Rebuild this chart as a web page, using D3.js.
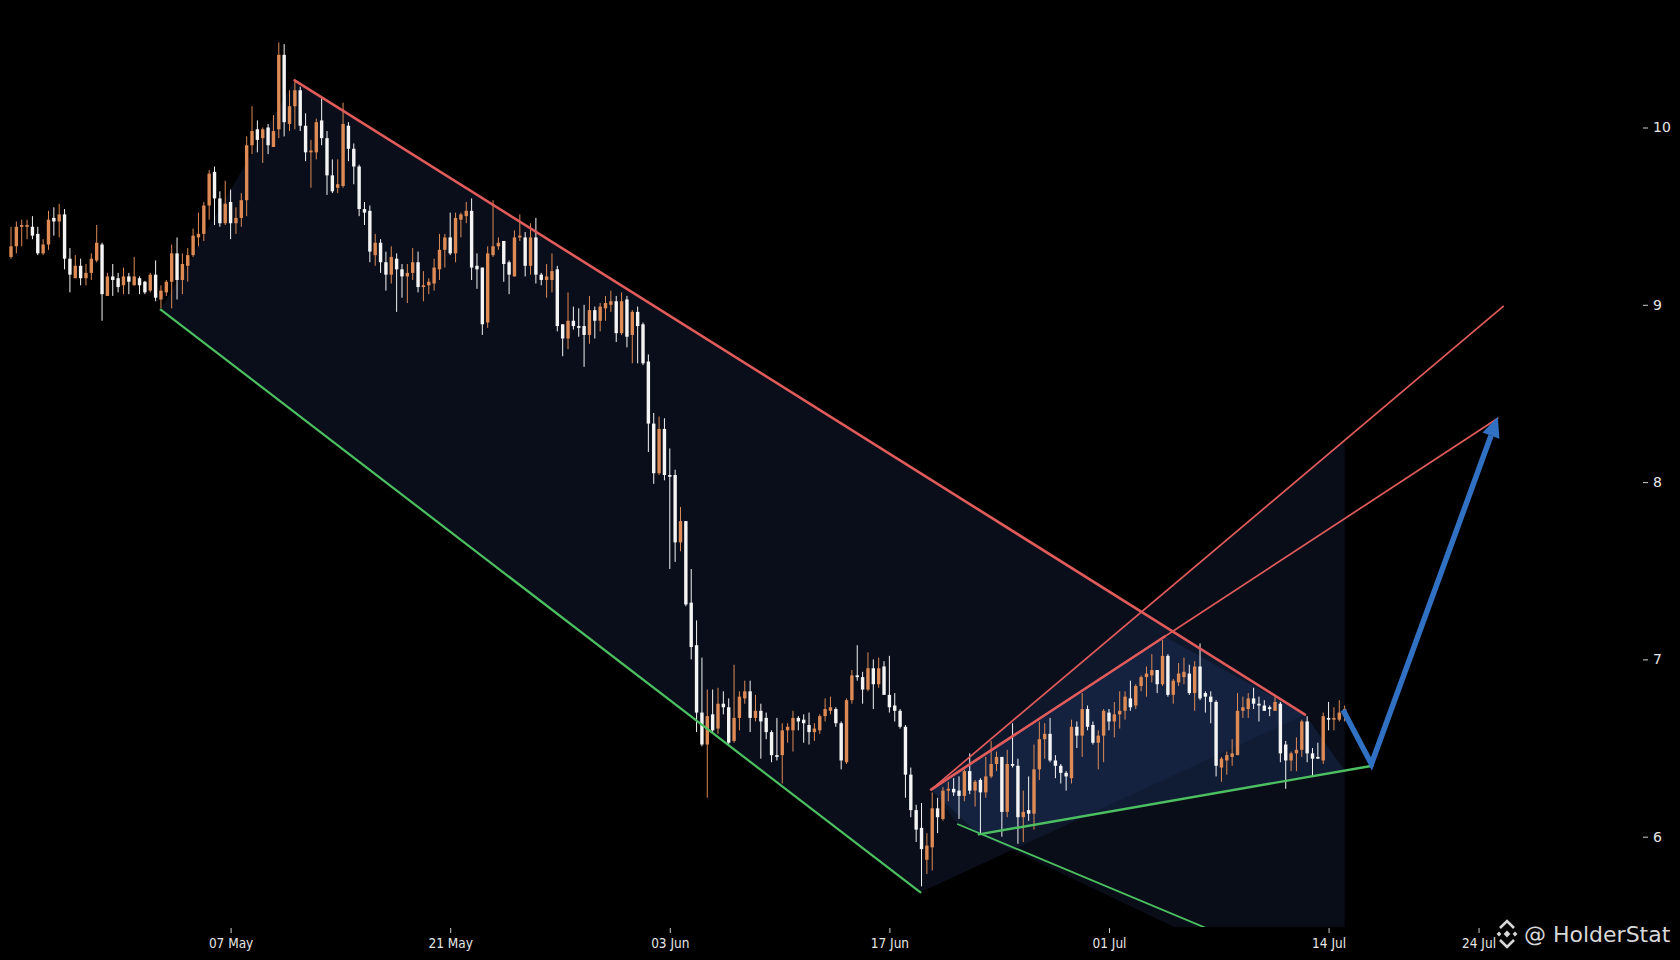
<!DOCTYPE html>
<html><head><meta charset="utf-8">
<script src="https://cdn.jsdelivr.net/npm/d3@7"></script>
<style>
html,body{margin:0;padding:0;background:#000;}
svg{display:block;}
</style></head>
<body>
<svg id="chart" width="1680" height="960"></svg>
<script>
// ---- data (8h candles, index based) ----
const opens  = [9.27,9.33,9.44,9.44,9.44,9.40,9.29,9.34,9.49,9.47,9.51,9.26,9.15,9.22,9.15,9.18,9.25,9.34,9.05,9.16,9.15,9.11,9.16,9.11,9.15,9.13,9.08,9.17,9.03,9.07,9.13,9.29,9.14,9.22,9.28,9.38,9.40,9.56,9.75,9.60,9.46,9.58,9.46,9.49,9.59,9.90,9.99,9.94,10.00,9.89,9.99,10.41,10.02,10.12,10.21,10.01,9.86,9.86,10.04,9.94,9.73,9.66,9.67,10.01,9.88,9.78,9.54,9.53,9.28,9.35,9.24,9.17,9.26,9.20,9.16,9.18,9.24,9.10,9.11,9.12,9.20,9.31,9.38,9.29,9.48,9.50,9.53,9.22,9.21,8.90,9.28,9.33,9.36,9.24,9.16,9.38,9.38,9.22,9.38,9.17,9.14,9.14,9.20,8.89,8.81,8.91,8.88,8.88,8.83,8.97,8.91,8.98,9.00,9.02,8.84,9.03,8.83,8.96,8.89,8.68,8.33,8.05,8.30,8.04,8.04,7.66,7.78,7.32,7.08,6.70,6.52,6.69,6.61,6.75,6.73,6.54,6.67,6.78,6.82,6.67,6.71,6.67,6.59,6.46,6.46,6.60,6.60,6.67,6.66,6.63,6.59,6.60,6.68,6.71,6.72,6.64,6.42,6.77,6.91,6.90,6.83,6.95,6.86,6.96,6.80,6.74,6.71,6.62,6.35,6.15,6.05,5.87,5.94,6.16,6.10,6.26,6.27,6.26,6.23,6.37,6.26,6.32,6.25,6.34,6.41,6.45,6.14,6.41,6.40,6.11,6.15,6.13,6.38,6.55,6.58,6.43,6.40,6.36,6.33,6.62,6.57,6.72,6.63,6.53,6.57,6.70,6.65,6.69,6.71,6.78,6.74,6.85,6.90,6.91,6.94,6.86,7.02,6.80,6.87,6.90,6.92,6.81,6.96,6.81,6.79,6.76,6.39,6.43,6.45,6.46,6.71,6.72,6.78,6.75,6.74,6.73,6.71,6.75,6.52,6.43,6.47,6.49,6.65,6.47,6.45,6.43,6.67,6.66,6.66,6.68];
const highs  = [9.44,9.47,9.48,9.48,9.50,9.44,9.37,9.53,9.55,9.57,9.54,9.32,9.28,9.26,9.23,9.29,9.45,9.35,9.18,9.23,9.18,9.21,9.18,9.27,9.16,9.135,9.18,9.25,9.11,9.14,9.34,9.38,9.29,9.32,9.43,9.52,9.58,9.76,9.78,9.64,9.70,9.65,9.55,9.63,9.95,10.12,10.04,10.00,10.02,10.07,10.48,10.47,10.21,10.27,10.23,10.08,9.93,10.05,10.17,9.98,9.82,9.82,10.14,10.03,9.91,9.79,9.58,9.56,9.40,9.37,9.30,9.33,9.29,9.23,9.23,9.32,9.30,9.19,9.15,9.26,9.40,9.40,9.52,9.52,9.52,9.58,9.60,9.29,9.21,9.33,9.59,9.38,9.36,9.25,9.42,9.51,9.41,9.46,9.49,9.18,9.23,9.29,9.22,8.89,9.07,8.99,8.98,9.00,9.05,8.99,9.01,9.05,9.08,9.05,9.07,9.05,8.97,8.99,8.90,8.72,8.39,8.37,8.36,8.19,8.07,7.86,7.78,7.51,7.22,7.01,6.83,6.83,6.84,6.82,6.78,6.97,6.82,6.88,6.88,6.80,6.75,6.70,6.60,6.67,6.64,6.64,6.71,6.68,6.69,6.70,6.64,6.69,6.78,6.79,6.73,6.65,6.78,6.94,7.08,6.93,7.04,7.00,7.01,6.99,7.02,6.81,6.72,6.63,6.39,6.18,6.19,6.02,6.25,6.22,6.28,6.31,6.33,6.34,6.38,6.47,6.32,6.33,6.45,6.54,6.48,6.45,6.49,6.64,6.44,6.26,6.34,6.52,6.65,6.64,6.67,6.46,6.41,6.37,6.66,6.65,6.81,6.74,6.65,6.60,6.72,6.72,6.76,6.82,6.82,6.88,6.86,6.91,6.96,7.03,6.94,7.11,7.03,6.89,6.98,7.01,6.97,6.99,7.09,6.82,6.82,6.77,6.45,6.48,6.55,6.81,6.79,6.81,6.84,6.79,6.77,6.74,6.79,6.76,6.54,6.48,6.56,6.66,6.68,6.50,6.53,6.70,6.76,6.73,6.77,6.74];
const lows   = [9.26,9.29,9.33,9.37,9.37,9.28,9.28,9.31,9.39,9.38,9.20,9.07,9.15,9.11,9.11,9.14,9.24,8.91,9.05,9.05,9.07,9.06,9.06,9.11,9.06,9.06,9.07,9.02,8.98,9.05,8.98,9.03,9.06,9.13,9.27,9.33,9.36,9.48,9.45,9.44,9.45,9.37,9.40,9.44,9.50,9.85,9.86,9.80,9.85,9.89,9.94,9.95,9.98,9.99,9.98,9.81,9.66,9.82,9.90,9.62,9.63,9.63,9.66,9.81,9.68,9.50,9.45,9.24,9.22,9.18,9.08,9.12,8.96,9.04,9.01,9.14,9.07,9.02,9.06,9.08,9.14,9.21,9.28,9.24,9.38,9.46,9.14,9.09,8.83,8.87,9.27,9.31,9.13,9.06,9.16,9.36,9.16,9.17,9.12,9.11,9.04,9.07,8.85,8.71,8.75,8.86,8.82,8.65,8.78,8.81,8.85,8.91,8.96,8.79,8.83,8.76,8.67,8.67,8.66,8.17,7.99,8.04,8.01,7.51,7.55,7.61,7.30,7.00,6.59,6.51,6.22,6.59,6.58,6.69,6.52,6.53,6.60,6.75,6.59,6.65,6.44,6.55,6.42,6.43,6.30,6.53,6.48,6.60,6.53,6.52,6.54,6.58,6.65,6.69,6.62,6.38,6.41,6.75,6.88,6.75,6.82,6.72,6.84,6.80,6.70,6.65,6.61,6.22,6.11,5.97,5.72,5.79,5.81,6.02,6.09,6.20,6.23,6.10,6.20,6.24,6.17,6.01,6.22,6.33,6.37,6.00,6.11,6.39,5.96,5.97,6.09,6.04,6.32,6.44,6.42,6.33,6.30,6.26,6.30,6.50,6.45,6.60,6.52,6.38,6.42,6.60,6.56,6.61,6.66,6.71,6.72,6.82,6.79,6.87,6.81,6.85,6.79,6.75,6.85,6.86,6.80,6.71,6.77,6.70,6.64,6.34,6.31,6.35,6.40,6.46,6.67,6.67,6.72,6.65,6.71,6.68,6.71,6.42,6.27,6.37,6.37,6.45,6.42,6.34,6.44,6.41,6.60,6.60,6.65,6.65];
const closes = [9.33,9.44,9.45,9.45,9.39,9.29,9.34,9.48,9.47,9.51,9.26,9.17,9.22,9.15,9.18,9.26,9.35,9.06,9.16,9.14,9.10,9.16,9.13,9.16,9.11,9.07,9.17,9.04,9.08,9.13,9.29,9.14,9.23,9.28,9.39,9.40,9.56,9.74,9.60,9.46,9.57,9.46,9.49,9.59,9.90,9.98,9.93,9.99,9.90,9.98,10.41,10.03,10.12,10.21,10.01,9.86,9.87,10.03,9.94,9.73,9.64,9.68,10.02,9.88,9.78,9.54,9.52,9.30,9.35,9.24,9.17,9.27,9.20,9.16,9.18,9.24,9.10,9.11,9.13,9.21,9.31,9.38,9.29,9.49,9.51,9.53,9.21,9.20,8.89,9.29,9.33,9.35,9.23,9.17,9.38,9.39,9.22,9.38,9.17,9.14,9.16,9.19,8.88,8.81,8.91,8.88,8.87,8.83,8.97,8.91,8.99,9.01,9.02,8.84,9.02,8.82,8.96,8.88,8.67,8.33,8.05,8.30,8.04,8.03,7.66,7.78,7.31,7.07,6.70,6.52,6.68,6.60,6.75,6.73,6.53,6.67,6.79,6.82,6.67,6.71,6.65,6.59,6.46,6.45,6.60,6.62,6.67,6.65,6.64,6.59,6.61,6.68,6.72,6.73,6.64,6.43,6.77,6.91,6.90,6.83,6.95,6.86,6.95,6.80,6.73,6.71,6.62,6.35,6.15,6.04,5.93,5.95,6.16,6.11,6.26,6.27,6.25,6.23,6.37,6.26,6.31,6.25,6.34,6.41,6.45,6.14,6.41,6.40,6.11,6.14,6.13,6.38,6.55,6.58,6.43,6.40,6.36,6.34,6.62,6.57,6.72,6.62,6.53,6.57,6.71,6.65,6.69,6.71,6.79,6.73,6.85,6.90,6.92,6.94,6.86,7.02,6.80,6.88,6.92,6.93,6.81,6.96,6.78,6.79,6.76,6.40,6.44,6.46,6.47,6.71,6.73,6.78,6.75,6.74,6.71,6.72,6.76,6.47,6.43,6.47,6.49,6.65,6.47,6.44,6.44,6.68,6.66,6.67,6.70,6.72];

const xTickIndex  = [41, 82, 123, 164, 205, 246, 274];
const xTickLabels = ["07 May", "21 May", "03 Jun", "17 Jun", "01 Jul", "14 Jul", "24 Jul"];
const yTickValues = [6, 7, 8, 9, 10];

// drawn trend lines, [candle index, price]
const redDescLine   = [[52.95, 10.266], [241.6, 6.689]];
const greenDescLine = [[27.95, 8.973], [169.8, 5.686]];
const triTopLine    = [[171.8, 6.266], [215.4, 7.129]];
const triTopExt     = [[171.8, 6.266], [277.6, 8.36]];
const steepRedLine  = [[171.8, 6.266], [278.6, 8.991]];
const greenBaseLine = [[180.7, 6.013], [254.2, 6.40]];
const greenLowLine  = [[176.8, 6.07], [223.5, 5.48]];
const arrowPath     = [[248.7, 6.715], [254.0, 6.41], [277.6, 8.368]];
const channelZone   = [[27.95, 8.973], [52.95, 10.266], [241.6, 6.689], [169.8, 5.686]];
const triangleZone  = [[171.8, 6.266], [215.4, 7.129], [241.6, 6.689], [249, 6.373], [180.7, 6.013]];
const projZone      = [[171.8, 6.266], [249, 8.235], [249, 5.40], [223.5, 5.40], [176.8, 6.07]];

// ---- drawing ----
const W = 1680, H = 960, plotBottom = 927;
const svg = d3.select("#chart");
svg.append("rect").attr("width", W).attr("height", H).attr("fill", "#000");

const x = d3.scaleLinear().domain([0, 249]).range([11, 11 + 5.356 * 249]);
const y = d3.scaleLinear().domain([6, 10]).range([836.7, 127.5]);

svg.append("clipPath").attr("id", "plotclip")
  .append("rect").attr("x", 0).attr("y", 0).attr("width", W).attr("height", plotBottom);

const plot = svg.append("g").attr("clip-path", "url(#plotclip)");
const line = d3.line().x(d => x(d[0])).y(d => y(d[1]));
const poly = pts => line(pts) + "Z";

plot.append("path").attr("d", poly(channelZone)).attr("fill", "#1f2e55").attr("fill-opacity", 0.3);
plot.append("path").attr("d", poly(projZone)).attr("fill", "#1f2e55").attr("fill-opacity", 0.28);
plot.append("path").attr("d", poly(triangleZone)).attr("fill", "#1e3a70").attr("fill-opacity", 0.32);

// candles
const n = opens.length;
const idx = d3.range(n);
const orange = "#dd8a55", white = "#f4f4f4";
const col = i => closes[i] >= opens[i] ? orange : white;
const bw = 3.4;
const cg = plot.append("g");
cg.selectAll("line.wick").data(idx).join("line")
  .attr("class", "wick")
  .attr("x1", i => x(i)).attr("x2", i => x(i))
  .attr("y1", i => y(highs[i])).attr("y2", i => y(lows[i]))
  .attr("stroke", col).attr("stroke-width", 1);
cg.selectAll("rect.body").data(idx).join("rect")
  .attr("class", "body")
  .attr("x", i => x(i) - bw / 2).attr("width", bw)
  .attr("y", i => y(Math.max(opens[i], closes[i])))
  .attr("height", i => Math.max(1.2, Math.abs(y(opens[i]) - y(closes[i]))))
  .attr("fill", col);

// trend lines
const red = "#e25b5b", green = "#4cc061";
function drawLine(pts, color, w) {
  plot.append("path").attr("d", line(pts)).attr("fill", "none")
    .attr("stroke", color).attr("stroke-width", w).attr("stroke-linecap", "round");
}
drawLine(greenDescLine, green, 2.2);
drawLine(greenLowLine, green, 1.8);
drawLine(greenBaseLine, green, 2.4);
drawLine(redDescLine, red, 2.6);
drawLine(triTopExt, red, 1.7);
drawLine(steepRedLine, red, 1.7);
drawLine(triTopLine, red, 2.6);

// arrow
const blue = "#3171c4";
const ap = arrowPath.map(d => [x(d[0]), y(d[1])]);
const tip = ap[ap.length - 1], prev = ap[ap.length - 2];
const ang = Math.atan2(tip[1] - prev[1], tip[0] - prev[0]);
const headLen = 20, headW = 9;
const base = [tip[0] - headLen * Math.cos(ang), tip[1] - headLen * Math.sin(ang)];
const shaft = ap.slice(0, -1).concat([base]);
plot.append("path").attr("d", d3.line()(shaft)).attr("fill", "none")
  .attr("stroke", blue).attr("stroke-width", 5.5).attr("stroke-linejoin", "miter");
const px = -Math.sin(ang), py = Math.cos(ang);
plot.append("path").attr("d", d3.line()([
  tip,
  [base[0] + px * headW, base[1] + py * headW],
  [base[0] - px * headW, base[1] - py * headW]
]) + "Z").attr("fill", blue);

// axes
const xAxis = d3.axisBottom(x).tickValues(xTickIndex)
  .tickFormat((d, i) => xTickLabels[i]).tickSize(5).tickPadding(5);
const gx = svg.append("g").attr("transform", `translate(0,${plotBottom + 1})`).call(xAxis);
gx.select(".domain").remove();
gx.selectAll("line").attr("stroke", "#cfcfcf");
gx.selectAll("text").attr("fill", "#e6e6e6")
  .style("font-family", "'DejaVu Sans Condensed','DejaVu Sans',sans-serif")
  .style("font-stretch", "condensed").style("font-size", "13.5px");

const yAxis = d3.axisRight(y).tickValues(yTickValues).tickFormat(d3.format("d"))
  .tickSize(5).tickPadding(5);
const gy = svg.append("g").attr("transform", "translate(1643,0)").call(yAxis);
gy.select(".domain").remove();
gy.selectAll("line").attr("stroke", "#cfcfcf");
gy.selectAll("text").attr("fill", "#e6e6e6")
  .style("font-family", "'DejaVu Sans',sans-serif").style("font-size", "14px");

// watermark
const wm = svg.append("g").attr("transform", "translate(1507,934)");
const s = 3.4;
const dia = (cx, cy, r) => `M${cx},${cy - r}L${cx + r},${cy}L${cx},${cy + r}L${cx - r},${cy}Z`;
wm.append("path").attr("d", dia(0, 0, s)).attr("fill", "#d8d8d8");
wm.append("path").attr("d", dia(-8, 0, 2.4)).attr("fill", "#d8d8d8");
wm.append("path").attr("d", dia(8, 0, 2.4)).attr("fill", "#d8d8d8");
wm.append("path").attr("d", "M-7,-6L0,-13L7,-6").attr("fill", "none").attr("stroke", "#d8d8d8").attr("stroke-width", 2.6);
wm.append("path").attr("d", "M-7,6L0,13L7,6").attr("fill", "none").attr("stroke", "#d8d8d8").attr("stroke-width", 2.6);
svg.append("text").attr("x", 1524).attr("y", 942)
  .style("font-family", "'DejaVu Sans',sans-serif").style("font-size", "22px")
  .attr("fill", "#d8d8d8").text("@ HolderStat");
</script>
</body></html>
